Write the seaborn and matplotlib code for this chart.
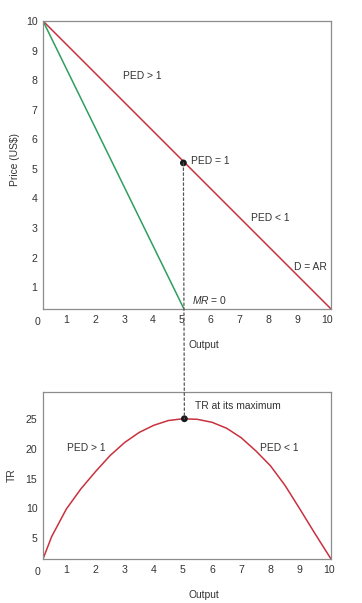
import matplotlib
matplotlib.use("Agg")
import matplotlib.pyplot as plt
from matplotlib.patches import ConnectionPatch
import seaborn as sns

sns.set_style("white")
plt.rcParams['font.family'] = ['Liberation Sans', 'DejaVu Sans']
plt.rcParams['mathtext.fontset'] = 'custom'
plt.rcParams['mathtext.it'] = 'Liberation Sans:italic'
plt.rcParams['mathtext.rm'] = 'Liberation Sans'

# demand (D = AR) and marginal revenue lines, read at their end points
d_output = [0.2, 10.15]
d_price = [10.0, 0.26]
mr_output = [0.2, 5.07]
mr_price = [10.0, 0.26]

# unit elastic point
ped1_output = 5.05
ped1_price = 5.2

# total revenue curve
tr_output = [0.2, 0.5, 1, 1.5, 2, 2.5, 3, 3.5, 4, 4.5, 5,
             5.5, 6, 6.5, 7, 7.5, 8, 8.5, 9, 9.5, 10.08]
tr_values = [1.5, 5.3, 9.9, 13.3, 16.2, 18.9, 21.1, 22.8, 24.0, 24.8, 25.1,
             25.0, 24.5, 23.5, 21.9, 19.7, 17.2, 13.9, 10.0, 6.0, 1.5]
tr_max_output = 5.05
tr_max_value = 25.1

x_ticks = [1, 2, 3, 4, 5, 6, 7, 8, 9, 10]
price_ticks = [1, 2, 3, 4, 5, 6, 7, 8, 9, 10]
tr_ticks = [5, 10, 15, 20, 25]

RED = "#c8313e"
GREEN = "#2f9e5e"
TXT = "#333333"
SPINE = "#8c8c8c"
FS = 7.4
TFS = 7.6

fig = plt.figure(figsize=(3.62, 6.03), dpi=100)
ax1 = fig.add_axes([0.1188, 0.4876, 0.7956, 0.4776])
ax2 = fig.add_axes([0.1188, 0.0730, 0.7956, 0.2769])

for ax in (ax1, ax2):
    for s in ax.spines.values():
        s.set_color(SPINE)
        s.set_linewidth(0.9)
    ax.tick_params(length=0, pad=4, labelsize=TFS, labelcolor=TXT)
    ax.set_xticks(x_ticks)
    ax.set_xticklabels([str(t) for t in x_ticks])

# top panel
sns.lineplot(x=d_output, y=d_price, ax=ax1, color=RED, lw=1.1,
             estimator=None, sort=False)
sns.lineplot(x=mr_output, y=mr_price, ax=ax1, color=GREEN, lw=1.1,
             estimator=None, sort=False)
sns.scatterplot(x=[ped1_output], y=[ped1_price], ax=ax1, color="#1a1a1a",
                s=24, edgecolor="none", zorder=5)
ax1.set_xlim(0.2, 10.15)
ax1.set_ylim(0.26, 10)
ax1.set_yticks(price_ticks)
ax1.set_yticklabels([str(t) for t in price_ticks])
ax1.set_ylabel("Price (US$)", fontsize=FS, color=TXT)
ax1.yaxis.set_label_coords(-0.08, 0.52)
ax1.set_xlabel("Output", fontsize=FS, color=TXT)
ax1.xaxis.set_label_coords(0.56, -0.108)
ax1.text(0.0, -0.045, "0", transform=ax1.get_xaxis_transform(),
         fontsize=TFS, color=TXT, ha="center", va="center")

ax1.text(2.97, 8.14, "PED > 1", fontsize=FS, color=TXT, va="center")
ax1.text(5.33, 5.26, "PED = 1", fontsize=FS, color=TXT, va="center")
ax1.text(7.37, 3.34, "PED < 1", fontsize=FS, color=TXT, va="center")
ax1.text(8.86, 1.68, "D = AR", fontsize=FS, color=TXT, va="center")
ax1.text(5.36, 0.56, r"$\mathit{MR}$ = 0", fontsize=FS, color=TXT, va="center")

# bottom panel
sns.lineplot(x=tr_output, y=tr_values, ax=ax2, color=RED, lw=1.1,
             estimator=None, sort=False)
sns.scatterplot(x=[tr_max_output], y=[tr_max_value], ax=ax2, color="#1a1a1a",
                s=24, edgecolor="none", zorder=5)
ax2.set_xlim(0.2, 10.08)
ax2.set_ylim(1.5, 29.6)
ax2.set_yticks(tr_ticks)
ax2.set_yticklabels([str(t) for t in tr_ticks])
ax2.set_ylabel("TR", fontsize=FS, color=TXT)
ax2.yaxis.set_label_coords(-0.09, 0.5)
ax2.set_xlabel("Output", fontsize=FS, color=TXT)
ax2.xaxis.set_label_coords(0.56, -0.186)
ax2.text(0.0, -0.078, "0", transform=ax2.get_xaxis_transform(),
         fontsize=TFS, color=TXT, ha="center", va="center")

ax2.text(5.42, 27.2, "TR at its maximum", fontsize=FS, color=TXT, va="center")
ax2.text(1.04, 20.2, "PED > 1", fontsize=FS, color=TXT, va="center")
ax2.text(7.65, 20.2, "PED < 1", fontsize=FS, color=TXT, va="center")

# dotted link between the two panels
con = ConnectionPatch(xyA=(ped1_output, ped1_price), coordsA=ax1.transData,
                      xyB=(tr_max_output, tr_max_value), coordsB=ax2.transData,
                      color="#555555", lw=0.9, linestyle=(0, (2, 2)), zorder=1)
fig.add_artist(con)

fig.savefig("out.png", dpi=100)
